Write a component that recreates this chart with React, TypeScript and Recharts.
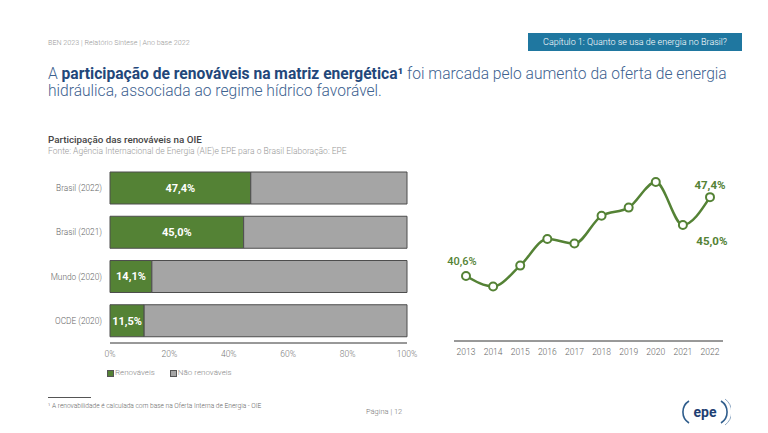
import React from 'react'
import {
  BarChart, Bar, LineChart, Line, XAxis, YAxis, LabelList, Legend,
} from 'recharts'

// participação das renováveis na OIE (%)
const barCategories = ['Brasil (2022)', 'Brasil (2021)', 'Mundo (2020)', 'OCDE (2020)']
const renewables = [47.4, 45.0, 14.1, 11.5]
const nonRenewables = [52.6, 55.0, 85.9, 88.5]
const barTicks = [0, 20, 40, 60, 80, 100]

// série histórica Brasil (%)
const years = ['2013', '2014', '2015', '2016', '2017', '2018', '2019', '2020', '2021', '2022']
const shares = [40.6, 39.7, 41.5, 43.8, 43.4, 45.8, 46.5, 48.7, 45.0, 47.4]

const GREEN = '#548235'
const GRAY = '#a5a5a5'
const FONT = 'Roboto, "Noto Sans", sans-serif'

const barData = barCategories.map((name, i) => ({
  name,
  ren: renewables[i],
  nren: nonRenewables[i],
}))

const lineData = years.map((year, i) => ({ year, value: shares[i] }))

const fmt = (v: number) => `${v.toFixed(1).replace('.', ',')}%`

function BarLegend() {
  const item = (color: string, text: string) => (
    <span style={{ display: 'inline-flex', alignItems: 'center', marginRight: 15 }}>
      <span style={{ width: 5, height: 5, background: color, border: '0.5px solid #555', display: 'inline-block' }} />
      <span style={{ marginLeft: 1 }}>{text}</span>
    </span>
  )
  return (
    <div style={{ marginLeft: 107, marginTop: -2, fontSize: 8, color: '#888', fontWeight: 300, fontFamily: FONT, lineHeight: '16px' }}>
      {item(GREEN, 'Renováveis')}
      {item(GRAY, 'Não renováveis')}
    </div>
  )
}

function LineLabel(props: any) {
  const { x, y, index, value } = props
  if (index === 0) {
    return <text x={x - 4} y={y - 11} textAnchor="middle" fill={GREEN} fontSize={11} fontWeight={500} fontFamily={FONT}>{fmt(value)}</text>
  }
  if (index === 9) {
    return <text x={x} y={y - 8} textAnchor="middle" fill={GREEN} fontSize={11.5} fontWeight={700} fontFamily={FONT}>{fmt(value)}</text>
  }
  if (index === 8) {
    return <text x={x + 29} y={y + 20} textAnchor="middle" fill={GREEN} fontSize={11.5} fontWeight={700} fontFamily={FONT}>{fmt(value)}</text>
  }
  return null
}

function Logo() {
  return (
    <svg width={52} height={30} style={{ position: 'absolute', left: 679, top: 397 }}>
      <path d="M10 4 A13 13 0 0 0 10 26" stroke="#2f5d8c" strokeWidth={1.6} fill="none" />
      <path d="M42 4 A13 13 0 0 1 42 26" stroke="#2f5d8c" strokeWidth={1.6} fill="none" />
      <path d="M46 2 A16 16 0 0 1 46 28" stroke="#8fa9c4" strokeWidth={1} fill="none" />
      <text x={26} y={20} textAnchor="middle" fontSize={14} fontWeight={700} fill="#1f3f73" fontFamily={FONT}>epe</text>
    </svg>
  )
}

export default function App() {
  return (
    <div style={{ position: 'absolute', left: 0, top: 0, width: 768, height: 433, background: '#fff', fontFamily: FONT, overflow: 'hidden' }}>
      <div style={{ position: 'absolute', left: 48, top: 38, fontSize: 7.2, color: '#999', fontWeight: 300 }}>
        BEN 2023 | Relatório Síntese | Ano base 2022
      </div>
      <div style={{ position: 'absolute', left: 528, top: 33, width: 214, height: 18, background: '#1f77a0', color: '#fff', fontSize: 9, lineHeight: '18px', textAlign: 'center', fontWeight: 300 }}>
        Capítulo 1: Quanto se usa de energia no Brasil?
      </div>
      <div style={{ position: 'absolute', left: 48, top: 66, width: 710, fontSize: 15.6, lineHeight: '17px', color: '#3d6290', fontWeight: 300 }}>
        A <b style={{ fontWeight: 700, color: '#23477a' }}>participação de renováveis na matriz energética¹</b> foi marcada pelo aumento da oferta de energia<br />
        hidráulica, associada ao regime hídrico favorável.
      </div>
      <div style={{ position: 'absolute', left: 48, top: 134, fontSize: 9.8, fontWeight: 500, color: '#444' }}>
        Participação das renováveis na OIE
      </div>
      <div style={{ position: 'absolute', left: 48, top: 146, fontSize: 8.5, color: '#999', fontWeight: 300 }}>
        Fonte: Agência Internacional de Energia (AIE)e EPE para o Brasil Elaboração: EPE
      </div>

      <div style={{ position: 'absolute', left: 0, top: 161 }}>
        <BarChart width={420} height={229} data={barData} layout="vertical" margin={{ top: 5, right: 13, left: 0, bottom: 5 }}>
          <XAxis
            type="number"
            domain={[0, 100]}
            ticks={barTicks}
            tickFormatter={(v) => `${v}%`}
            height={24}
            tickLine={false}
            axisLine={{ stroke: '#333' }}
            tick={{ fontSize: 8.5, fill: '#777', fontFamily: FONT, fontWeight: 300 }}
          />
          <YAxis
            type="category"
            dataKey="name"
            width={110}
            tickLine={false}
            axisLine={false}
            tick={{ fontSize: 8.3, fill: '#666', fontFamily: FONT, fontWeight: 300 }}
          />
          <Legend verticalAlign="bottom" align="left" height={18} content={() => <BarLegend />} />
          <Bar dataKey="ren" stackId="a" fill={GREEN} stroke="#4d4d4d" strokeWidth={1} barSize={32} isAnimationActive={false}>
            <LabelList dataKey="ren" position="center" formatter={(v: any) => fmt(Number(v))} fill="#fff" fontSize={11} fontWeight={700} fontFamily={FONT} />
          </Bar>
          <Bar dataKey="nren" stackId="a" fill={GRAY} stroke="#4d4d4d" strokeWidth={1} barSize={32} isAnimationActive={false} />
        </BarChart>
      </div>

      <div style={{ position: 'absolute', left: 440, top: 160 }}>
        <LineChart width={300} height={210} data={lineData} margin={{ top: 7, right: 17, left: 14, bottom: 5 }}>
          <XAxis
            dataKey="year"
            padding={{ left: 12, right: 13 }}
            height={24}
            tickLine={false}
            axisLine={{ stroke: '#333' }}
            tick={{ fontSize: 8.5, fill: '#666', fontFamily: FONT, fontWeight: 300 }}
            interval={0}
          />
          <YAxis hide domain={[35, 50]} />
          <Line
            type="monotone"
            dataKey="value"
            stroke={GREEN}
            strokeWidth={2.5}
            dot={{ r: 4, fill: '#fff', stroke: GREEN, strokeWidth: 2 }}
            isAnimationActive={false}
          >
            <LabelList dataKey="value" content={<LineLabel />} />
          </Line>
        </LineChart>
      </div>

      <div style={{ position: 'absolute', left: 48, top: 397, width: 43, borderTop: '0.8px solid #555' }} />
      <div style={{ position: 'absolute', left: 48, top: 402, fontSize: 6.6, color: '#666', fontWeight: 300 }}>
        ¹ A renovabilidade é calculada com base na Oferta Interna de Energia - OIE
      </div>
      <div style={{ position: 'absolute', left: 366, top: 407, fontSize: 7.5, color: '#777', fontWeight: 300 }}>
        Página | 12
      </div>
      <Logo />
    </div>
  )
}
